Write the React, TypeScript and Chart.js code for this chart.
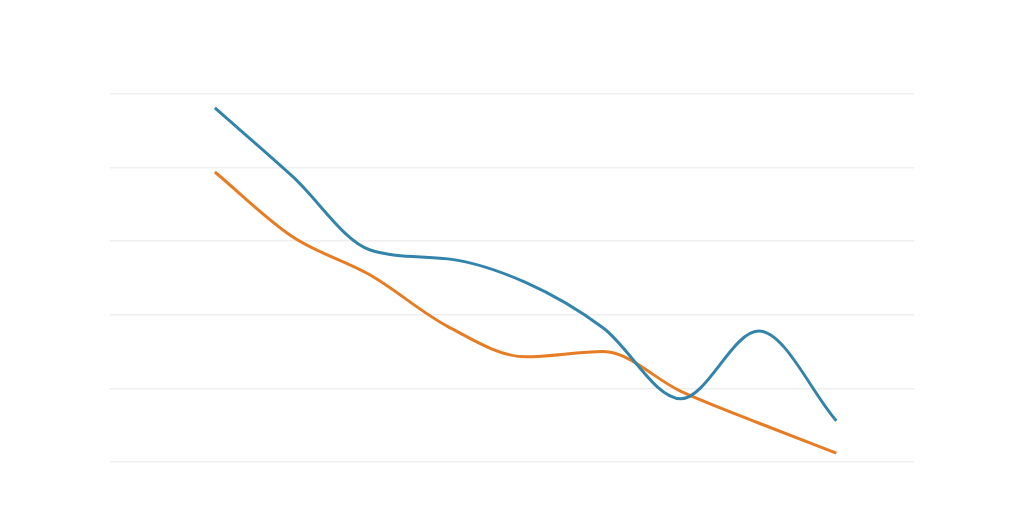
import { useEffect, useRef } from "react"
import { Chart, registerables } from "chart.js"

Chart.register(...registerables)

// x positions of the samples (no labels are shown in the chart)
const xValues = [0, 1, 2, 3, 4, 5, 6, 7, 8]
const blueSeries = [48.1, 38.8, 28.8, 27.6, 24.4, 18.2, 8.6, 17.8, 5.6]
const orangeSeries = [39.4, 30.6, 25.4, 18.4, 14.3, 15.0, 9.6, 5.3, 1.2]
const yTicks = [0, 10, 20, 30, 40, 50]

export default function App() {
  const chartRef = useRef<HTMLCanvasElement>(null)
  const chartInstance = useRef<Chart | null>(null)

  useEffect(() => {
    document.body.style.margin = "0"
    if (!chartRef.current) return
    if (chartInstance.current) chartInstance.current.destroy()
    const ctx = chartRef.current.getContext("2d")
    if (!ctx) return

    chartInstance.current = new Chart(ctx, {
      type: "line",
      data: {
        datasets: [
          {
            label: "A",
            data: xValues.map((x, i) => ({ x, y: blueSeries[i] })),
            borderColor: "#3384aa",
            borderWidth: 3,
            pointRadius: 0,
            cubicInterpolationMode: "monotone",
            fill: false,
          },
          {
            label: "B",
            data: xValues.map((x, i) => ({ x, y: orangeSeries[i] })),
            borderColor: "#e67d24",
            borderWidth: 3,
            pointRadius: 0,
            cubicInterpolationMode: "monotone",
            fill: false,
          },
        ],
      },
      options: {
        animation: false,
        responsive: true,
        maintainAspectRatio: false,
        layout: { padding: { left: 110, right: 110, top: 94, bottom: 50 } },
        plugins: { legend: { display: false }, tooltip: { enabled: false } },
        scales: {
          x: { type: "linear", min: -1.35, max: 9, display: false },
          y: {
            min: yTicks[0],
            max: yTicks[yTicks.length - 1],
            afterBuildTicks: (axis) => {
              axis.ticks = yTicks.map((value) => ({ value }))
            },
            ticks: { display: false },
            border: { display: false },
            grid: { color: "#efefef", lineWidth: 1.5, drawTicks: false },
          },
        },
      },
    })

    return () => {
      if (chartInstance.current) chartInstance.current.destroy()
    }
  }, [])

  return (
    <div style={{ width: "1024px", height: "512px", background: "#fff" }}>
      <canvas ref={chartRef} />
    </div>
  )
}
